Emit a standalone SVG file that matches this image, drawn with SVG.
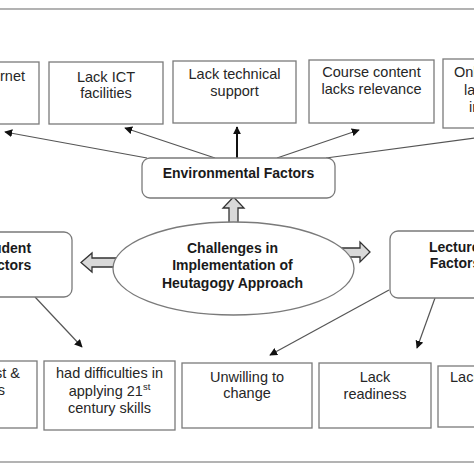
<svg xmlns="http://www.w3.org/2000/svg" width="474" height="474" viewBox="0 0 474 474">
<style>
.bx{fill:#fff;stroke:#7a7a7a;stroke-width:1.3}
.rb{fill:#fff;stroke:#7a7a7a;stroke-width:1.3}
.t{font-family:"Liberation Sans",Arial,sans-serif;font-size:14.5px;fill:#262626;text-anchor:middle}
.b{font-family:"Liberation Sans",Arial,sans-serif;font-size:14px;font-weight:bold;fill:#1a1a1a;text-anchor:middle}
.ln{stroke:#555;stroke-width:1.2;fill:none}
.blk{fill:#d9d9d9;stroke:#333;stroke-width:1.3;stroke-linejoin:miter}
</style>
<defs>
<marker id="ah" viewBox="0 0 10 10" refX="9" refY="5" markerWidth="8" markerHeight="8" markerUnits="userSpaceOnUse" orient="auto"><path d="M0,0 L10,5 L0,10 z" fill="#111"/></marker>
</defs>
<rect width="474" height="474" fill="#fff"/>
<rect x="-5" y="9" width="484" height="453" fill="none" stroke="#8a8a8a" stroke-width="1.3"/>

<g id="connectors">
<line class="ln" x1="147" y1="158" x2="5" y2="132" marker-end="url(#ah)"/>
<line class="ln" x1="215" y1="158" x2="125" y2="128" marker-end="url(#ah)"/>
<line x1="237" y1="158" x2="237" y2="127" stroke="#111" stroke-width="2" marker-end="url(#ah)"/>
<line class="ln" x1="277" y1="158" x2="359" y2="130" marker-end="url(#ah)"/>
<line class="ln" x1="326" y1="158" x2="490" y2="136"/>
<line class="ln" x1="35" y1="297" x2="82" y2="347" marker-end="url(#ah)"/>
<line class="ln" x1="389" y1="290" x2="270" y2="355" marker-end="url(#ah)"/>
<line class="ln" x1="435" y1="298" x2="417" y2="348" marker-end="url(#ah)"/>
<polygon class="blk" points="229,226 229,208 223,208 233.5,197 244,208 238,208 238,226"/>
<polygon class="blk" points="120,258 92,258 92,253 81,262.5 92,272 92,267 120,267"/>
<polygon class="blk" points="332,248 360,248 360,242 370,252 360,262 360,257 332,257"/>
</g>

<g id="top1"><rect class="bx" x="-75" y="62" width="114" height="62"/><text class="t" x="25" y="81" style="text-anchor:end">Internet</text></g>
<g id="top2"><rect class="bx" x="49" y="62" width="114" height="62"/><text class="t" x="106" y="82">Lack ICT</text><text class="t" x="106" y="98">facilities</text></g>
<g id="top3"><rect class="bx" x="173" y="61" width="123" height="62"/><text class="t" x="234.5" y="79">Lack technical</text><text class="t" x="234.5" y="96">support</text></g>
<g id="top4"><rect class="bx" x="309" y="60" width="125" height="63"/><text class="t" x="371.5" y="77">Course content</text><text class="t" x="371.5" y="94">lacks relevance</text></g>
<g id="top5"><rect class="bx" x="443" y="59" width="120" height="69"/><text class="t" x="454" y="77" style="text-anchor:start">Online</text><text class="t" x="464" y="95" style="text-anchor:start">lacks</text><text class="t" x="469" y="112" style="text-anchor:start">interaction</text></g>

<g id="env"><rect class="rb" x="142" y="158" width="193" height="40" rx="8"/><text class="b" x="238.5" y="178">Environmental Factors</text></g>
<g id="student"><rect class="rb" x="-62" y="232" width="134" height="65" rx="8"/><text class="b" x="5" y="253">Student</text><text class="b" x="6" y="270">Factors</text></g>
<g id="lecturer"><rect class="rb" x="390" y="231" width="140" height="67" rx="8"/><text class="b" x="457" y="252">Lecturer</text><text class="b" x="455" y="268">Factors</text></g>
<g id="center"><ellipse cx="233.5" cy="268.5" rx="120.5" ry="46.5" fill="#fff" stroke="#7a7a7a" stroke-width="1.3"/><text class="b" x="232.5" y="253">Challenges in</text><text class="b" x="232.5" y="270">Implementation of</text><text class="b" x="232.5" y="288">Heutagogy Approach</text></g>

<g id="bot1"><rect class="bx" x="-90" y="361" width="127" height="67"/><text class="t" x="20" y="378" style="text-anchor:end">interest &amp;</text><text class="t" x="5" y="395" style="text-anchor:end">attitudes</text></g>
<g id="bot2"><rect class="bx" x="44" y="361" width="131" height="69"/><text class="t" x="109.5" y="378">had difficulties in</text><text class="t" x="109.5" y="396">applying 21<tspan font-size="9.5" dy="-6">st</tspan></text><text class="t" x="109.5" y="413">century skills</text></g>
<g id="bot3"><rect class="bx" x="182" y="363" width="130" height="65"/><text class="t" x="247" y="382">Unwilling to</text><text class="t" x="247" y="398">change</text></g>
<g id="bot4"><rect class="bx" x="319" y="363" width="112" height="65"/><text class="t" x="375" y="382">Lack</text><text class="t" x="375" y="399">readiness</text></g>
<g id="bot5"><rect class="bx" x="438" y="366" width="100" height="61"/><text class="t" x="450" y="382" style="text-anchor:start">Lack</text></g>
</svg>
